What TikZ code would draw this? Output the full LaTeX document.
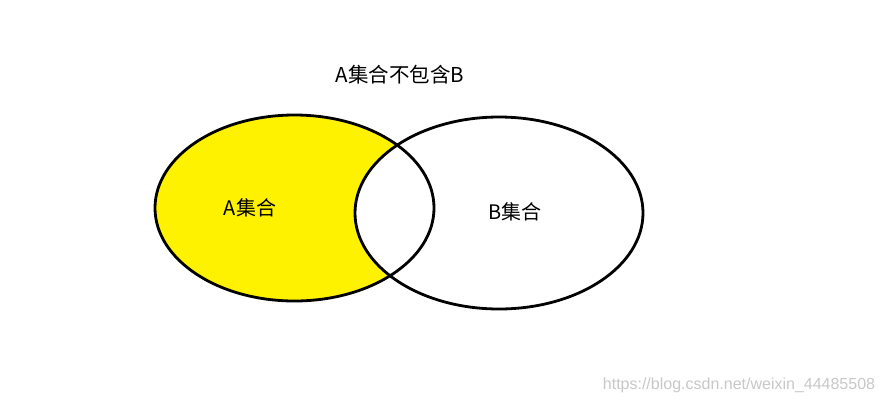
\documentclass[tikz,border=0pt]{standalone}
\usepackage{fontspec}
\setmainfont{Liberation Sans}
\newfontfamily\cjk{Noto Sans CJK SC}
\definecolor{pyellow}{RGB}{255,242,0}
\definecolor{wmgray}{RGB}{200,200,200}
\begin{document}
\begin{tikzpicture}[x=1pt,y=-1pt,
  setline/.style={draw=black,line width=2.8pt},
  lbl/.style={font=\cjk\fontsize{20}{22}\selectfont,inner sep=0pt}]
\useasboundingbox (0,0) rectangle (883,405);
\fill[white] (0,0) rectangle (883,405);
% A minus B
\fill[pyellow] (294.5,208) ellipse [x radius=139.5, y radius=93];
\fill[white] (499,213) ellipse [x radius=144, y radius=96];
\draw[setline] (294.5,208) ellipse [x radius=139.5, y radius=93];
\draw[setline] (499,213) ellipse [x radius=144, y radius=96];
\node[lbl,font=\cjk\fontsize{20.5}{22}\selectfont] (title) at (400,75) {A集合不包含B};
\node[lbl] (la) at (250,208) {A集合};
\node[lbl] (lb) at (515,212) {B集合};
\node[inner sep=0pt,text=wmgray,font=\fontsize{16}{18}\selectfont] (wm) at (739,385) {https://blog.csdn.net/weixin\_44485508};
\end{tikzpicture}
\end{document}
